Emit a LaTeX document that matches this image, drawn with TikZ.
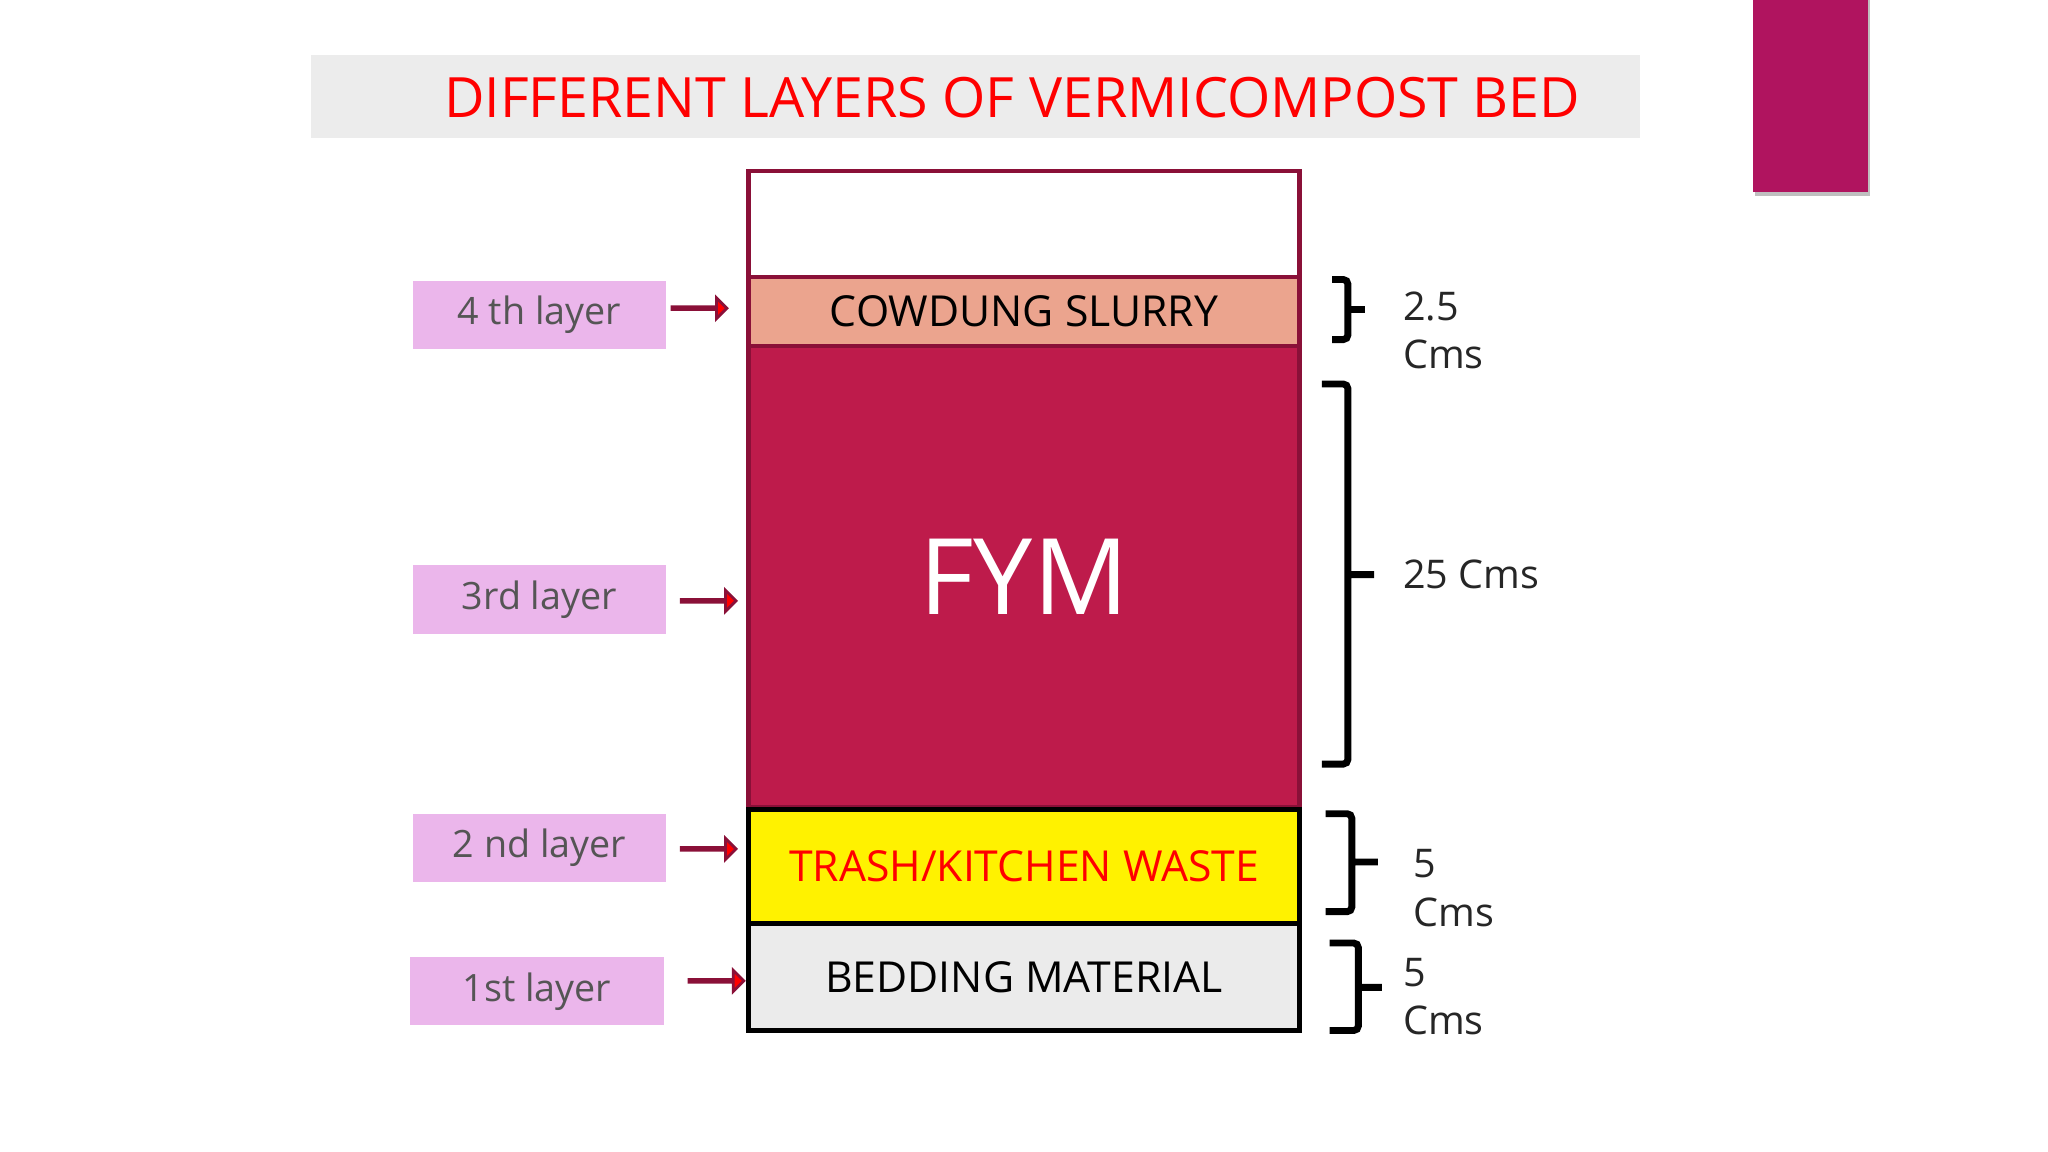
\documentclass[tikz,border=0pt]{standalone}
\usepackage{fontspec}
\setmainfont{Open Sans}
\usetikzlibrary{shapes.arrows}

\definecolor{titlegray}{HTML}{ECECEC}
\definecolor{plum}{HTML}{B0145F}
\definecolor{slurry}{HTML}{EBA48E}
\definecolor{fym}{HTML}{BE1B4B}
\definecolor{bedding}{HTML}{EBEBEB}
\definecolor{tagpink}{HTML}{EBB6EB}
\definecolor{tagtext}{HTML}{555555}
\definecolor{rimred}{HTML}{8A1038}

\tikzset{
 layer/.style={draw=#1, line width=1pt, minimum width=4.22cm, inner sep=0pt, font=\fontsize{9.3}{11}\selectfont},
 tag/.style={fill=tagpink, minimum width=1.94cm, minimum height=0.43cm, text=tagtext, font=\fontsize{8.2}{10}\selectfont},
 pointer/.style={single arrow, fill=red, draw=rimred, line width=0.6pt, minimum width=0.15cm, single arrow head extend=0.07cm, minimum height=0.42cm, inner sep=0pt},
 bracket/.style={line width=1.5pt, rounded corners=1pt},
 size/.style={anchor=west, align=left, font=\fontsize{8.6}{10.5}\selectfont, text=black!85}
}

\begin{document}
\begin{tikzpicture}[x=0.01cm, y=-0.01cm]
 \useasboundingbox (0,0) rectangle (1568,882);
 \fill[white] (0,0) rectangle (1568,882);

 % title and corner block
 \fill[titlegray] (238,42) rectangle (1256,106);
 \node[text=red, font=\fontsize{12.1}{14}\selectfont] (title) at (775,75) {DIFFERENT LAYERS OF VERMICOMPOST BED};
 \fill[black!25] (1344,0) rectangle (1432,150);
 \fill[plum] (1342,0) rectangle (1430,147);

 % the bed
 \node[layer=rimred, fill=white, minimum height=0.81cm] (space) at (784,171.5) {};
 \node[layer=rimred, fill=slurry, minimum height=0.53cm] (slurry) at (784,238.5) {COWDUNG SLURRY};
 \node[layer=rimred, fill=fym, minimum height=3.53cm, text=white, font=\fontsize{23}{27}\selectfont] (fym) at (784,441.5) {FYM};
 \node[layer=black, fill=yellow, minimum height=0.87cm, text=red] (trash) at (784,663.5) {TRASH/KITCHEN WASTE};
 \node[layer=black, fill=bedding, minimum height=0.82cm] (bedding) at (784,748) {BEDDING MATERIAL};

 % layer tags and pointers
 \node[tag] (tag4) at (413,241) {4 th layer};
 \node[tag] (tag3) at (413,459) {3rd layer};
 \node[tag] (tag2) at (413,649) {2 nd layer};
 \node[tag, minimum height=0.46cm] (tag1) at (411,759) {1st layer};
 \node[pointer] (arr4) at (535,236) {};
 \node[pointer] (arr3) at (542,460) {};
 \node[pointer] (arr2) at (542,650) {};
 \node[pointer] (arr1) at (548,751) {};

 % thickness brackets
 \draw[bracket] (1020,214) -- (1032,214) -- (1032,260) -- (1020,260) (1032,237) -- (1045,237);
 \node[size] (h4) at (1062,253) {2.5\\Cms};
 \draw[bracket] (1012,294) -- (1032,294) -- (1032,585) -- (1012,585) (1032,440) -- (1052,440);
 \node[size] (h3) at (1062,440) {25 Cms};
 \draw[bracket] (1015,623) -- (1035,623) -- (1035,698) -- (1015,698) (1035,660) -- (1055,660);
 \node[size] (h2) at (1070,680) {5\\Cms};
 \draw[bracket] (1018,722) -- (1040,722) -- (1040,789) -- (1018,789) (1040,756) -- (1058,756);
 \node[size] (h1) at (1062,763) {5\\Cms};
\end{tikzpicture}
\end{document}
